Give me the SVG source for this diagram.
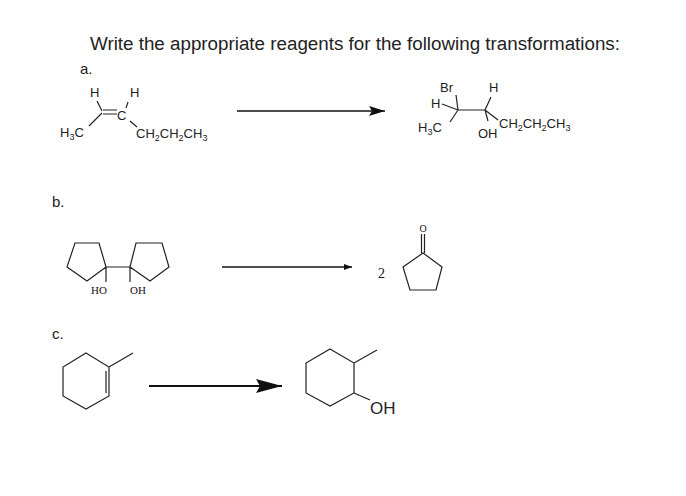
<svg xmlns="http://www.w3.org/2000/svg" width="686" height="496" viewBox="0 0 686 496">
<defs><style>
.b{stroke:#222;stroke-width:1.2;fill:none}
.s{font-family:"Liberation Sans",Arial,sans-serif;fill:#222}
.t{font-family:"Liberation Serif",serif;fill:#111}
</style>
<marker id="ah" markerWidth="16" markerHeight="10" refX="16" refY="5" orient="auto" markerUnits="userSpaceOnUse"><path d="M0,0 L16,5 L0,10 L3,5 Z" fill="#111"/></marker>
<marker id="bh" markerWidth="26" markerHeight="14" refX="26" refY="7" orient="auto" markerUnits="userSpaceOnUse"><path d="M0,0 L26,7 L0,14 L4,7 Z" fill="#111"/></marker>
<marker id="sh" markerWidth="8" markerHeight="6" refX="8" refY="3" orient="auto" markerUnits="userSpaceOnUse"><path d="M0,0 L8,3 L0,6 Z" fill="#111"/></marker>
</defs>
<rect width="686" height="496" fill="#fff"/>
<g id="labels" class="s">
<text x="90" y="50" font-size="18.8">Write the appropriate reagents for the following transformations:</text>
<text x="80" y="74" font-size="15">a.</text>
<text x="52" y="207" font-size="15">b.</text>
<text x="52" y="339" font-size="15">c.</text>
</g>
<g id="a-reactant">
<text class="s" font-size="13" x="90" y="97">H</text>
<text class="s" font-size="13" x="130" y="97">H</text>
<path class="b" d="M97,101 L102,111 M103,110 L117,110 M103,114 L117,114 M128,102 L126,108 M102,113 L89,126 M130,121 L137,127"/>
<text class="s" font-size="13" x="117" y="120">C</text>
<text class="s" font-size="13" x="60" y="137">H<tspan font-size="9" dy="3">3</tspan><tspan dy="-3">C</tspan></text>
<text class="s" font-size="13" x="136" y="138">CH<tspan font-size="9" dy="3">2</tspan><tspan dy="-3">CH</tspan><tspan font-size="9" dy="3">2</tspan><tspan dy="-3">CH</tspan><tspan font-size="9" dy="3">3</tspan></text>
</g>
<g id="a-product">
<text class="s" font-size="13" x="440" y="92">Br</text>
<text class="s" font-size="13" x="431" y="108">H</text>
<text class="s" font-size="13" x="489" y="92">H</text>
<path class="b" d="M442,104 L458,110 M458,110 L456,95 M458,110 L485,110 M485,110 L491,97 M458,110 L450,122 M485,110 L488,121 M485,110 L498,120"/>
<text class="s" font-size="13" x="418" y="132">H<tspan font-size="9" dy="3">3</tspan><tspan dy="-3">C</tspan></text>
<text class="s" font-size="13" x="478" y="138">OH</text>
<text class="s" font-size="13" x="499" y="128">CH<tspan font-size="9" dy="3">2</tspan><tspan dy="-3">CH</tspan><tspan font-size="9" dy="3">2</tspan><tspan dy="-3">CH</tspan><tspan font-size="9" dy="3">3</tspan></text>
</g>
<g id="b-reactant">
<path class="b" d="M75,243 L99,243 L106,267 L87,281 L67,267 Z M130,267 L136,243 L162,243 L169,267 L150,281 Z M106,267 L130,267 M106,267 L106,282 M130,267 L130,282"/>
<text class="t" font-size="11" x="99" y="294" text-anchor="middle">HO</text>
<text class="t" font-size="11" x="138" y="294" text-anchor="middle">OH</text>
</g>
<g id="b-product">
<text class="t" font-size="14" x="378" y="278">2</text>
<text class="t" font-size="10" x="423" y="232" text-anchor="middle">O</text>
<path class="b" d="M423,253 L442,267 L436,290 L410,290 L403,267 Z M421.5,234 L421.5,253 M424.5,234 L424.5,253"/>
</g>
<g id="c-reactant">
<path class="b" d="M86,353 L109,367 L109,396 L86,409 L63,396 L63,367 Z M109,367 L133,353 M106,371 L106,393"/>
</g>
<g id="c-product">
<path class="b" d="M330,349 L354,363 L354,393 L330,406 L306,393 L306,363 Z M354,363 L377,350 M354,393 L370,400"/>
<text class="s" font-size="17" x="370" y="414">OH</text>
</g>
<g id="connectors" stroke="#111" stroke-width="1.3" fill="none">
<line x1="237" y1="111" x2="385" y2="111" marker-end="url(#ah)"/>
<line x1="222" y1="267" x2="352" y2="267" marker-end="url(#sh)"/>
<line x1="149" y1="386" x2="282" y2="386" stroke-width="1.8" marker-end="url(#bh)"/>
</g>
</svg>
